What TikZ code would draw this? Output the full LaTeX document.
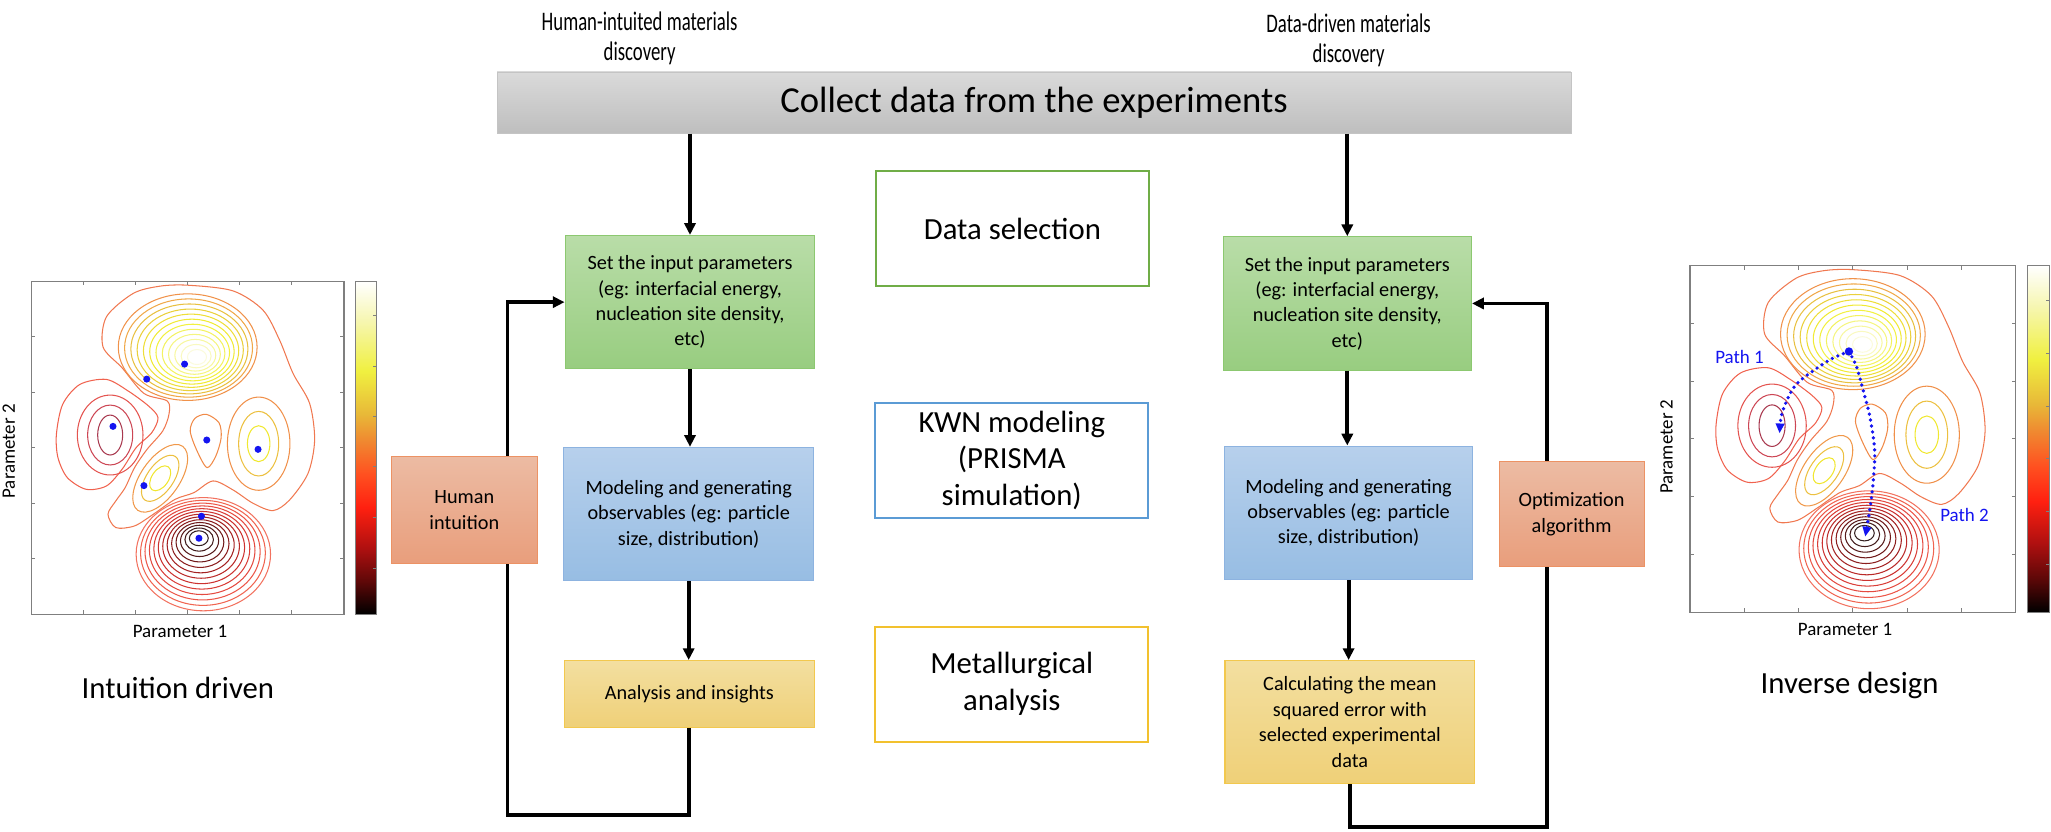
\documentclass[tikz,border=0pt]{standalone}
\usepackage{fontspec}
\setmainfont{Carlito}
\usetikzlibrary{arrows.meta}
\definecolor{grtop}{HTML}{B9DDA8}
\definecolor{grbot}{HTML}{98CD80}
\definecolor{grline}{HTML}{8CC870}
\definecolor{bltop}{HTML}{B7D0EC}
\definecolor{blbot}{HTML}{97BDE3}
\definecolor{blline}{HTML}{8DB3E0}
\definecolor{yltop}{HTML}{F3DFA0}
\definecolor{ylbot}{HTML}{EFD078}
\definecolor{ylline}{HTML}{F2C84E}
\definecolor{ortop}{HTML}{ECBBA3}
\definecolor{orbot}{HTML}{E99E7C}
\definecolor{orline}{HTML}{EC9264}
\definecolor{gytop}{HTML}{DADADA}
\definecolor{gybot}{HTML}{BEBEBE}
\definecolor{gyline}{HTML}{C4C4C4}
\definecolor{midgreen}{HTML}{70AD47}
\definecolor{midblue}{HTML}{5B9BD5}
\definecolor{midgold}{HTML}{F2C12E}
\definecolor{axgray}{HTML}{7F7F7F}
\definecolor{dotblue}{HTML}{1414F0}
\definecolor{cenv}{HTML}{F07850}
\definecolor{ctear}{HTML}{F08A48}
\definecolor{cbean}{HTML}{F0624E}
\newcommand{\txtbox}{\fontsize{15.5}{19.4}\selectfont}
\newcommand{\txtbig}{\fontsize{23.5}{28}\selectfont}
\newcommand{\txtcollect}{\fontsize{28}{32}\selectfont}
\newcommand{\txthead}{\fontsize{20.5}{23}\selectfont\addfontfeatures{FakeStretch=0.7}}
\newcommand{\txtaxis}{\fontsize{14.5}{17}\selectfont}
% contour map in a unit square (y downwards), with axes and colour bar
\newcommand{\contourfield}{%
  % outer level around the humps
  \draw[ring, draw=cenv] plot[smooth cycle] coordinates {(0.501,0.012) (0.645,0.029) (0.741,0.087) (0.794,0.177) (0.837,0.277) (0.89,0.367) (0.906,0.477) (0.885,0.577) (0.826,0.657) (0.773,0.689) (0.709,0.667) (0.645,0.627) (0.581,0.60) (0.52,0.635) (0.46,0.655) (0.39,0.70) (0.33,0.735) (0.27,0.74) (0.245,0.70) (0.27,0.66) (0.30,0.62) (0.33,0.56) (0.37,0.505) (0.42,0.45) (0.44,0.40) (0.435,0.36) (0.36,0.337) (0.29,0.26) (0.229,0.197) (0.24,0.107) (0.325,0.037) (0.41,0.015)};
  % top peak
  \foreach \i/\col in {0/F0924A,1/F0A848,2/E8C040,3/EAD03C,4/EEDE38,5/F0EA34,6/F2F040,7/F3F260,8/F5F580,9/F7F7A0,10/F9F9C0,11/FBFBDC}{
    \pgfmathsetmacro\rx{0.222-0.0174*\i}
    \pgfmathsetmacro\ry{0.16-0.0125*\i}
    \pgfmathsetmacro\cx{0.50+0.0027*\i}
    \pgfmathsetmacro\cy{0.198+0.0027*\i}
    \definecolor{rc}{HTML}{\col}
    \draw[ring, draw=rc] (\cx,\cy) ellipse ({\rx} and {\ry});
  }
  % bottom valley
  \foreach \i/\col in {0/F2725F,1/F06450,2/EC5648,3/E44A40,4/DA3E38,5/CC3230,6/BA2A28,7/A42222,8/8C1E1E,9/701A1A,10/561A1A,11/421C1C,12/332020}{
    \pgfmathsetmacro\rx{0.215-0.0154*\i}
    \pgfmathsetmacro\ry{0.17-0.0123*\i}
    \pgfmathsetmacro\cx{0.55-0.0012*\i}
    \pgfmathsetmacro\cy{0.82-0.004*\i}
    \definecolor{rc}{HTML}{\col}
    \draw[ring, draw=rc] (\cx,\cy) ellipse ({\rx} and {\ry});
  }
  % left valley
  \draw[ring, draw=cbean] plot[smooth cycle] coordinates {(0.08,0.46) (0.10,0.37) (0.155,0.31) (0.24,0.295) (0.31,0.33) (0.375,0.375) (0.405,0.41) (0.385,0.455) (0.335,0.50) (0.29,0.565) (0.24,0.615) (0.175,0.625) (0.115,0.59) (0.085,0.53)};
  \foreach \rx/\ry/\col in {0.105/0.12/E45450, 0.072/0.09/CC4654, 0.04/0.06/A8384E}{
    \definecolor{rc}{HTML}{\col}
    \draw[ring, draw=rc] (0.252,0.462) ellipse ({\rx} and {\ry});
  }
  % right hump
  \foreach \rx/\ry/\col in {0.1/0.14/F0904A, 0.064/0.097/ECC040, 0.036/0.054/F0E830}{
    \definecolor{rc}{HTML}{\col}
    \draw[ring, draw=rc] (0.727,0.488) ellipse ({\rx} and {\ry});
  }
  % lower left hump
  \foreach \rx/\ry/\col in {0.125/0.058/F0984A, 0.085/0.04/ECC040, 0.045/0.025/F0E630}{
    \definecolor{rc}{HTML}{\col}
    \draw[ring, draw=rc, rotate around={55:(0.412,0.592)}] (0.412,0.592) ellipse ({\rx} and {\ry});
  }
  % centre hump
  \draw[ring, draw=ctear] plot[smooth cycle] coordinates {(0.56,0.40) (0.60,0.425) (0.607,0.47) (0.59,0.525) (0.562,0.56) (0.53,0.51) (0.508,0.45) (0.523,0.412)};
  % axes
  \draw[axisline] (0,0) rectangle (1,1);
  \foreach \t in {1,...,5}{
    \draw[axisline] (\t/6,1) -- ++(0,-0.012);
    \draw[axisline] (\t/6,0) -- ++(0,0.012);
    \draw[axisline] (0,\t/6) -- ++(0.012,0);
    \draw[axisline] (1,\t/6) -- ++(-0.012,0);
  }
  % colour bar
  \foreach \ta/\ca/\tb/\cb in {0/FFFFFF/0.12/F6F6B0, 0.12/F6F6B0/0.27/F0F040, 0.27/F0F040/0.40/E8B838, 0.40/E8B838/0.48/F08830, 0.48/F08830/0.58/FF5020, 0.58/FF5020/0.68/FF2010, 0.68/FF2010/0.80/B01010, 0.80/B01010/0.90/600808, 0.90/600808/1/000000}{
    \definecolor{cbtop}{HTML}{\ca}
    \definecolor{cbbot}{HTML}{\cb}
    \shade[top color=cbtop, bottom color=cbbot] (1.037,\ta) rectangle (1.104,\tb);
  }
  \draw[axisline] (1.037,0) rectangle (1.104,1);
  \foreach \t in {0.102,0.255,0.407,0.557,0.709,0.862}
    \draw[axisline] (1.104,\t) -- ++(-0.012,0);
}

\begin{document}
\begin{tikzpicture}[x=1pt, y=-1pt,
  flow/.style={line width=3pt, -{Triangle[length=9pt,width=8.5pt]}},
  stepbox/.style={minimum width=191pt, minimum height=102pt, inner sep=0pt, align=center, font=\txtbox, line width=0.8pt},
  inbox/.style={stepbox, top color=grtop, bottom color=grbot, draw=grline},
  modelbox/.style={stepbox, top color=bltop, bottom color=blbot, draw=blline},
  outbox/.style={stepbox, top color=yltop, bottom color=ylbot, draw=ylline},
  tunebox/.style={stepbox, minimum width=112pt, minimum height=82pt, top color=ortop, bottom color=orbot, draw=orline},
  stagebox/.style={minimum width=209pt, minimum height=88pt, inner sep=0pt, align=center, font=\txtbig, fill=white, line width=1.5pt},
  ring/.style={line width=0.8pt},
  axisline/.style={draw=axgray, line width=0.8pt},
  pathdot/.style={dotblue, line width=2.8pt, line cap=round, dash pattern=on 0pt off 4.6pt}]
\useasboundingbox (0,0) rectangle (1568,636);

% headings and data collection
\node[font=\txthead, align=center] (humanhead) at (489,29) {Human-intuited materials\\discovery};
\node[font=\txthead, align=center] (datahead) at (1031,31) {Data-driven materials\\discovery};
\node[minimum width=821pt, minimum height=47pt, inner sep=0pt, top color=gytop, bottom color=gybot, draw=gyline, font=\txtcollect] (collect) at (790.5,78.5) {Collect data from the experiments};

% stages in the middle
\node[stagebox, draw=midgreen] (select) at (774,175) {Data selection};
\node[stagebox, draw=midblue] (kwn) at (773.5,352) {KWN modeling\\(PRISMA\\simulation)};
\node[stagebox, draw=midgold] (metal) at (773.5,523) {Metallurgical\\analysis};

% left column
\node[inbox] (inputL) at (527.5,231) {Set the input parameters\\(eg: interfacial energy,\\nucleation site density,\\etc)};
\node[modelbox] (modelL) at (526.5,393) {Modeling and generating\\observables (eg: particle\\size, distribution)};
\node[outbox, minimum height=51pt] (analysisL) at (527,530.5) {Analysis and insights};

% right column
\node[inbox, minimum width=190pt] (inputR) at (1030,232) {Set the input parameters\\(eg: interfacial energy,\\nucleation site density,\\etc)};
\node[modelbox, minimum width=190pt] (modelR) at (1031,392) {Modeling and generating\\observables (eg: particle\\size, distribution)};
\node[outbox, minimum height=94pt] (errorR) at (1032,552) {Calculating the mean\\squared error with\\selected experimental\\data};

% flow
\draw[flow] (collect.south -| inputL.north) -- (inputL.north);
\draw[flow] (collect.south -| inputR.north) -- (inputR.north);
\draw[flow] (inputL.south) -- (inputL.south |- modelL.north);
\draw[flow] (modelL.south) -- (modelL.south |- analysisL.north);
\draw[flow] (inputR.south) -- (inputR.south |- modelR.north);
\draw[flow] (modelR.south) -- (modelR.south |- errorR.north);

% feedback loops
\coordinate (loopL) at (388,623);
\coordinate (loopR) at (1183,632);
\draw[flow] (analysisL.south) |- (loopL) |- (inputL.west);
\draw[flow] (errorR.south) |- (loopR) |- (inputR.east);
\node[tunebox] (human) at (355,390) {Human\\intuition};
\node[tunebox, minimum width=111pt, minimum height=80pt] (optim) at (1201.5,393) {Optimization\\algorithm};

% left plot
\begin{scope}[shift={(24,215)}, x=239pt, y=-254.5pt]
  \contourfield
  \foreach \px/\py in {0.49/0.249, 0.369/0.294, 0.261/0.436, 0.561/0.477, 0.725/0.505, 0.36/0.614, 0.544/0.706, 0.536/0.772}
    \fill[dotblue] (\px,\py) circle (2.7pt);
\end{scope}
\node[font=\txtaxis] (xlabL) at (137.6,483) {Parameter 1};
\node[font=\txtaxis, rotate=90] (ylabL) at (6.8,345) {Parameter 2};
\node[font=\txtbig] (intuition) at (136,526) {Intuition driven};

% right plot
\begin{scope}[shift={(1292,203)}, x=249pt, y=-265pt]
  \contourfield
  \coordinate (start) at (0.488,0.248);
  \draw[pathdot, -{Triangle[length=7.5pt,width=6.5pt]}] plot[smooth] coordinates {(0.488,0.248) (0.429,0.272) (0.347,0.325) (0.317,0.354) (0.296,0.392) (0.28,0.435) (0.275,0.484)};
  \draw[pathdot, -{Triangle[length=7.5pt,width=6.5pt]}] plot[smooth] coordinates {(0.488,0.248) (0.511,0.291) (0.531,0.358) (0.552,0.435) (0.567,0.532) (0.562,0.628) (0.552,0.705) (0.538,0.782)};
  \fill[dotblue] (start) circle (3.2pt);
  \node[font=\txtaxis, text=dotblue] (path1) at (0.152,0.2625) {Path 1};
  \node[font=\txtaxis, text=dotblue] (path2) at (0.843,0.719) {Path 2};
\end{scope}
\node[font=\txtaxis] (xlabR) at (1410.6,481.6) {Parameter 1};
\node[font=\txtaxis, rotate=90] (ylabR) at (1274,341.5) {Parameter 2};
\node[font=\txtbig] (inverse) at (1414,524) {Inverse design};
\end{tikzpicture}
\end{document}
